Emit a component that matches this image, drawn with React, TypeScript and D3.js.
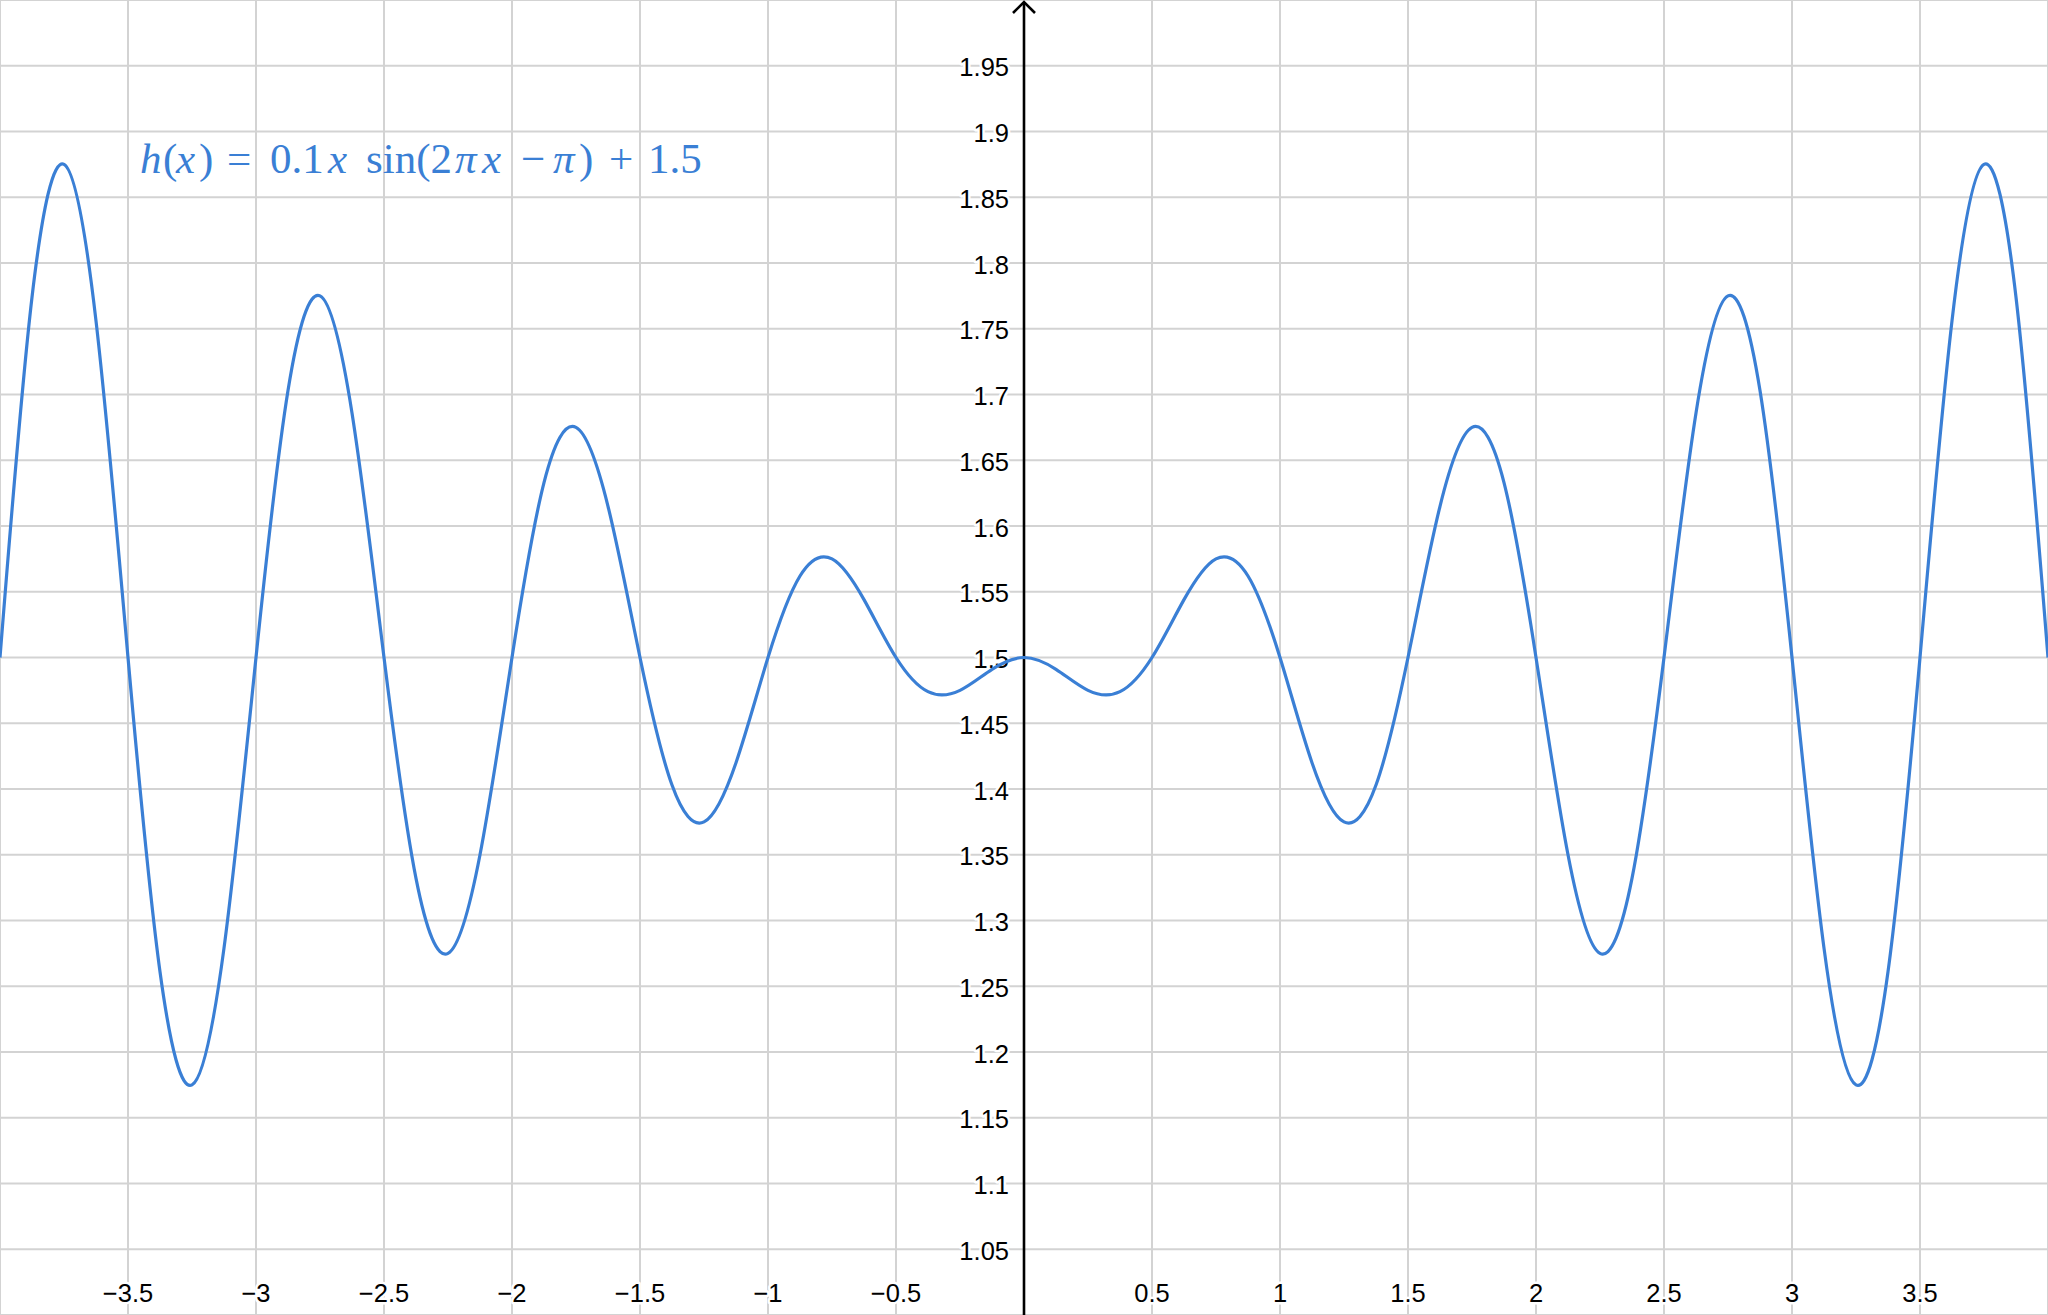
import React from "react";
import * as d3 from "d3";

const W = 2048;
const H = 1315;

const xValues = [
  -4, -3.875, -3.75, -3.625, -3.5, -3.375, -3.25, -3.125,
  -3, -2.875, -2.75, -2.625, -2.5, -2.375, -2.25, -2.125,
  -2, -1.875, -1.75, -1.625, -1.5, -1.375, -1.25, -1.125,
  -1, -0.875, -0.75, -0.625, -0.5, -0.375, -0.25, -0.125,
  0, 0.125, 0.25, 0.375, 0.5, 0.625, 0.75, 0.875,
  1, 1.125, 1.25, 1.375, 1.5, 1.625, 1.75, 1.875,
  2, 2.125, 2.25, 2.375, 2.5, 2.625, 2.75, 2.875,
  3, 3.125, 3.25, 3.375, 3.5, 3.625, 3.75, 3.875, 4,
];
const hValues = [
  1.5, 1.774, 1.875, 1.756, 1.5, 1.261, 1.175, 1.279,
  1.5, 1.703, 1.775, 1.686, 1.5, 1.332, 1.275, 1.35,
  1.5, 1.633, 1.675, 1.615, 1.5, 1.403, 1.375, 1.42,
  1.5, 1.562, 1.575, 1.544, 1.5, 1.474, 1.475, 1.491,
  1.5, 1.491, 1.475, 1.474, 1.5, 1.544, 1.575, 1.562,
  1.5, 1.42, 1.375, 1.403, 1.5, 1.615, 1.675, 1.633,
  1.5, 1.35, 1.275, 1.332, 1.5, 1.686, 1.775, 1.703,
  1.5, 1.279, 1.175, 1.261, 1.5, 1.756, 1.875, 1.774, 1.5,
];

const xGrid = [-4, -3.5, -3, -2.5, -2, -1.5, -1, -0.5, 0, 0.5, 1, 1.5, 2, 2.5, 3, 3.5, 4];
const xTickLabels = [-3.5, -3, -2.5, -2, -1.5, -1, -0.5, 0.5, 1, 1.5, 2, 2.5, 3, 3.5];
const yGrid = [
  1, 1.05, 1.1, 1.15, 1.2, 1.25, 1.3, 1.35, 1.4, 1.45, 1.5,
  1.55, 1.6, 1.65, 1.7, 1.75, 1.8, 1.85, 1.9, 1.95, 2,
];
const yTickLabels = [
  1.05, 1.1, 1.15, 1.2, 1.25, 1.3, 1.35, 1.4, 1.45, 1.5,
  1.55, 1.6, 1.65, 1.7, 1.75, 1.8, 1.85, 1.9, 1.95,
];

// formula label pieces: text, italic?
const formulaParts: [string, boolean][] = [
  ["h", true], ["(", false], ["x", true], [")", false], ["=", false],
  ["0.1", false], ["x", true], ["sin(2", false], ["π", true], ["x", true],
  ["−", false], ["π", true], [")", false], ["+", false], ["1.5", false],
];
const formulaX = [140, 163, 176, 199, 227, 270, 328, 366, 455, 482, 521, 553, 579, 609, 648];

const BLUE = "#3a7fd5";
const GRID = "#d3d3d3";

const fmt = (v: number) => {
  const s = String(+v.toFixed(2));
  return s.startsWith("-") ? "\u2212" + s.slice(1) : s;
};

export default function App() {
  const x = d3.scaleLinear().domain([-4, 4]).range([0, W]);
  const y = d3.scaleLinear().domain([1, 2]).range([H, 0]);
  const pts: [number, number][] = xValues.map((v, i) => [v, hValues[i]]);
  const line = d3
    .line<[number, number]>()
    .x((d) => x(d[0]))
    .y((d) => y(d[1]))
    .curve(d3.curveNatural);
  const x0 = x(0);
  const labelFont = "'Liberation Sans', Arial, sans-serif";
  const mathFont = "'Liberation Serif', 'Times New Roman', serif";

  return (
    <svg
      width={W}
      height={H}
      viewBox={`0 0 ${W} ${H}`}
      style={{ position: "absolute", left: 0, top: 0, background: "#fff" }}
    >
      <rect x={0} y={0} width={W} height={H} fill="#fff" />
      <g stroke={GRID} strokeWidth={2}>
        {xGrid.map((v) => (
          <line key={"gx" + v} x1={x(v)} x2={x(v)} y1={0} y2={H} />
        ))}
        {yGrid.map((v) => (
          <line key={"gy" + v} x1={0} x2={W} y1={y(v)} y2={y(v)} />
        ))}
      </g>
      <g
        fontFamily={labelFont}
        fontSize={25.5}
        fill="#000"
        stroke="#fff"
        strokeWidth={5}
        paintOrder="stroke"
        strokeLinejoin="round"
      >
        {xTickLabels.map((v) => (
          <text key={"tx" + v} x={x(v)} y={1302} textAnchor="middle">
            {fmt(v)}
          </text>
        ))}
        {yTickLabels.map((v) => (
          <text key={"ty" + v} x={x0 - 15} y={y(v) + 10.5} textAnchor="end">
            {fmt(v)}
          </text>
        ))}
      </g>
      <g stroke="#000" strokeWidth={2.6} fill="none">
        <line x1={x0} x2={x0} y1={2} y2={H} />
        <path d={`M${x0 - 11},${13} L${x0},${2} L${x0 + 11},${13}`} strokeLinejoin="miter" />
      </g>
      <path d={line(pts) ?? ""} fill="none" stroke={BLUE} strokeWidth={3.2} strokeLinejoin="round" />
      <text y={173} fontFamily={mathFont} fontSize={43} fill={BLUE}>
        {formulaParts.map(([t, it], i) => (
          <tspan key={"f" + i} x={formulaX[i]} fontStyle={it ? "italic" : "normal"}>
            {t}
          </tspan>
        ))}
      </text>
    </svg>
  );
}
